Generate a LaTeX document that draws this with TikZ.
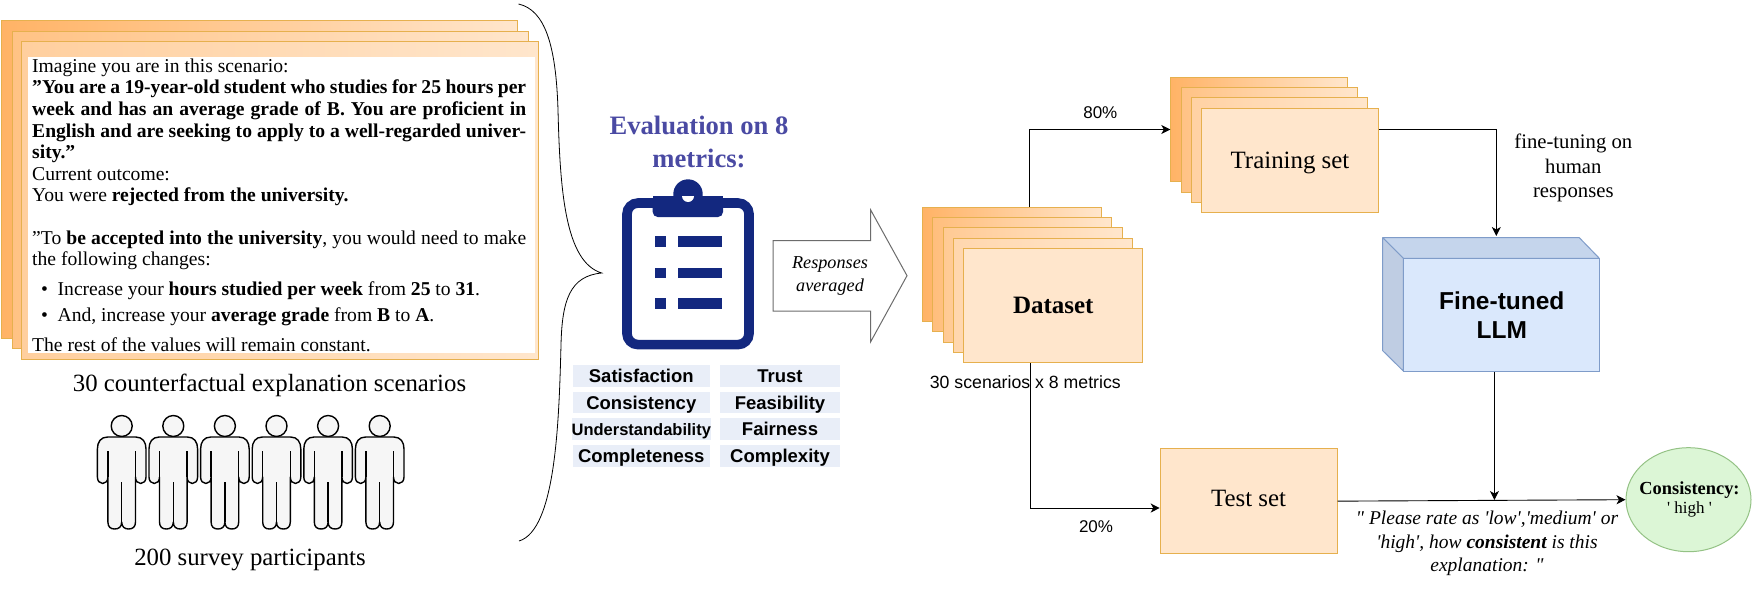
\documentclass[tikz,border=0pt]{standalone}
\usepackage{fontspec}
\setmainfont{Liberation Serif}
\setsansfont{Liberation Sans}
\newfontfamily\plainserif{Liberation Serif}
\usetikzlibrary{arrows.meta,shapes.geometric}
\definecolor{sheetedge}{HTML}{E6B04E}
\definecolor{sheetfill}{HTML}{FFE6CC}
\definecolor{deeporange}{HTML}{FFB366}
\definecolor{boardblue}{HTML}{13287F}
\definecolor{titleblue}{HTML}{4A4AA3}
\definecolor{metricfill}{HTML}{E9EEF8}
\definecolor{llmedge}{HTML}{7F9CC9}
\definecolor{llmfront}{HTML}{DAE8FC}
\definecolor{llmtop}{HTML}{C5D5EC}
\definecolor{llmside}{HTML}{BFCDE3}
\definecolor{outfill}{HTML}{DCF6D6}
\definecolor{outedge}{HTML}{94C285}
\definecolor{bodyfill}{HTML}{F6F6F6}
\tikzset{
  sheet/.style={draw=sheetedge,line width=1pt,rectangle,inner sep=0pt,anchor=north west},
  topsheet/.style={sheet,fill=sheetfill},
  flow/.style={-{Stealth[length=9pt,width=9pt,inset=2.5pt]},black,line width=0.9pt},
  metric/.style={fill=metricfill,inner sep=0pt,text height=17pt,text depth=4pt,font={\sffamily\bfseries\fontsize{18.5}{22}\selectfont}},
  scenario/.style={inner sep=0pt,anchor=north west,font={\fontsize{19.6}{21.6}\selectfont}},
  caption/.style={inner sep=0pt,font={\fontsize{24.8}{29}\selectfont}},
  note/.style={inner sep=0pt,align=center,font={\plainserif\itshape\fontsize{19.5}{23.5}\selectfont}},
  body/.style={draw=black,line width=1.4pt,fill=bodyfill,line join=round}
}
\newcommand{\person}[1]{%
\begin{scope}[xshift=#1pt]
\draw[body] (0,426) circle (10.5);
\draw[body] (-14,437)--(14,437) .. controls (21,437) and (24.3,442) .. (24.3,449)--(24.3,477) .. controls (24.3,481) and (22,483.5) .. (19,483.5) .. controls (16,483.5) and (13.8,481) .. (13.8,477)--(13.8,522) .. controls (13.8,527) and (11,529) .. (7,529) .. controls (3,529) and (0,527) .. (0,522) .. controls (0,527) and (-3,529) .. (-7,529) .. controls (-11,529) and (-13.8,527) .. (-13.8,522)--(-13.8,477) .. controls (-13.8,481) and (-16,483.5) .. (-19,483.5) .. controls (-22,483.5) and (-24.3,481) .. (-24.3,477)--(-24.3,449) .. controls (-24.3,442) and (-21,437) .. (-14,437)--cycle;
\draw[body] (13.8,451)--(13.8,477);
\draw[body] (-13.8,451)--(-13.8,477);
\draw[body] (0,482)--(0,522);
\end{scope}}
\begin{document}
\begin{tikzpicture}[x=1pt,y=-1pt]
\useasboundingbox (0,0) rectangle (1755,599);
% scenario sheets
\node[sheet,left color=deeporange,right color=sheetfill,minimum width=516pt,minimum height=318pt] (scenBack) at (1,20) {};
\node[sheet,left color=deeporange!70!sheetfill,right color=sheetfill,minimum width=516.5pt,minimum height=317pt] (scenMid) at (11.5,31) {};
\node[sheet,left color=deeporange!45!sheetfill,right color=sheetfill,minimum width=517pt,minimum height=317.5pt] (scenTop) at (21.4,41) {};
\node[fill=white,inner sep=0pt,anchor=north west,minimum width=507.5pt,minimum height=296pt] (scenPage) at (27.5,57) {};
\node[scenario,text width=494pt,align=justify] (scenIntro) at (32,58.5) {Imagine you are in this scenario:\\
\textbf{”You are a 19-year-old student who studies for 25 hours per\linebreak week and has an average grade of B. You are proficient in\linebreak English and are seeking to apply to a well-regarded univer-\linebreak sity.”}\\
Current outcome:\\
You were \textbf{rejected from the university.}};
\node[scenario,text width=494pt,align=justify] (scenCf) at (32,230.5) {”To \textbf{be accepted into the university}, you would need to make\linebreak the following changes:};
\node[scenario] (itemA) at (41,281.5) {\makebox[16.5pt][l]{•}Increase your \textbf{hours studied per week} from \textbf{25} to \textbf{31}.};
\node[scenario] (itemB) at (41,307.5) {\makebox[16.5pt][l]{•}And, increase your \textbf{average grade} from \textbf{B} to \textbf{A}.};
\node[scenario] (scenRest) at (32,337) {The rest of the values will remain constant.};
\node[caption] (scenLabel) at (269.5,385) {30 counterfactual explanation scenarios};
\person{121.7}
\person{173.3}
\person{224.9}
\person{276.5}
\person{328.1}
\person{379.7}
\node[caption] (crowdLabel) at (250,560) {200 survey participants};
% brace
\draw[black,line width=0.8pt] (518.5,4) .. controls (545,10) and (556,45) .. (558,110) .. controls (560,190) and (565,262) .. (601.7,273) .. controls (570,276) and (562,300) .. (561,345) .. controls (559,420) and (556,530) .. (519,541);
% clipboard
\node[inner sep=0pt,align=center,text=titleblue,font={\bfseries\fontsize{26.6}{33}\selectfont}] (evalTitle) at (699,141.5) {Evaluation on 8\\metrics:};
\fill[boardblue] (688,194) circle (14.7);
\draw[boardblue,line width=9.6pt,fill=white,rounded corners=11pt] (627,203) rectangle (749,344.6);
\fill[boardblue,rounded corners=5pt] (652.7,196)--(723,196)--(723,217)--(652.7,217)--cycle;
\fill[boardblue] (652.7,196) rectangle (723,205);
\fill[white] (682,196) arc (180:0:6) --cycle;
\fill[boardblue] (654.7,236) rectangle (665.7,246.7);
\fill[boardblue] (677.7,236) rectangle (721.7,246.7);
\fill[boardblue] (654.7,267.7) rectangle (665.7,278.3);
\fill[boardblue] (677.7,267.7) rectangle (721.7,278.3);
\fill[boardblue] (654.7,298.3) rectangle (665.7,309.3);
\fill[boardblue] (677.7,298.3) rectangle (721.7,309.3);
% metrics
\node[metric,minimum width=137.3pt,minimum height=21.7pt] (mSat) at (641.3,375.8) {Satisfaction};
\node[metric,minimum width=137.3pt,minimum height=21.7pt] (mCon) at (641.3,402.5) {Consistency};
\node[metric,minimum width=137.3pt,minimum height=21.7pt,font={\sffamily\bfseries\fontsize{16.5}{20}\selectfont}] (mUnd) at (641.3,429.2) {Understandability};
\node[metric,minimum width=137.3pt,minimum height=21.7pt] (mCmp) at (641.3,455.8) {Completeness};
\node[metric,minimum width=120pt,minimum height=21.7pt] (mTru) at (780,375.8) {Trust};
\node[metric,minimum width=120pt,minimum height=21.7pt] (mFea) at (780,402.5) {Feasibility};
\node[metric,minimum width=120pt,minimum height=21.7pt] (mFai) at (780,429.2) {Fairness};
\node[metric,minimum width=120pt,minimum height=21.7pt] (mCpx) at (780,455.8) {Complexity};
% block arrow
\draw[gray!85!black,line width=1pt,fill=white] (773,240.7)--(870.7,240.7)--(870.7,210)--(907,275.7)--(870.7,341.7)--(870.7,311)--(773,311)--cycle;
\node[note,font={\itshape\fontsize{18.2}{23}\selectfont}] (avgNote) at (830,275.5) {Responses\\averaged};
% dataset
\node[sheet,left color=deeporange,right color=sheetfill,minimum width=179pt,minimum height=114pt] (dataA) at (922,206.7) {};
\node[sheet,left color=deeporange!78!sheetfill,right color=sheetfill,minimum width=178.7pt,minimum height=114.3pt] (dataB) at (932.3,216.7) {};
\node[sheet,left color=deeporange!55!sheetfill,right color=sheetfill,minimum width=179pt,minimum height=114.4pt] (dataC) at (942.7,227.3) {};
\node[sheet,left color=deeporange!30!sheetfill,right color=sheetfill,minimum width=179pt,minimum height=114pt] (dataD) at (953,237.7) {};
\node[topsheet,minimum width=179pt,minimum height=114pt,font={\bfseries\fontsize{25}{30}\selectfont}] (dataE) at (963.3,248) {Dataset};
\node[inner sep=0pt,font={\sffamily\fontsize{17.7}{22}\selectfont}] (dataNote) at (1025.3,381.7) {30 scenarios x 8 metrics};
% training set
\node[sheet,left color=deeporange,right color=sheetfill,minimum width=176.4pt,minimum height=104.6pt] (trainA) at (1170.3,76.7) {};
\node[sheet,left color=deeporange!70!sheetfill,right color=sheetfill,minimum width=176.3pt,minimum height=105pt] (trainB) at (1180.7,86.7) {};
\node[sheet,left color=deeporange!40!sheetfill,right color=sheetfill,minimum width=176.3pt,minimum height=104.7pt] (trainC) at (1191,97.3) {};
\node[topsheet,minimum width=176.4pt,minimum height=104.6pt,text height=22pt,text depth=5.3pt,font={\fontsize{24.9}{29}\selectfont}] (trainD) at (1201.3,107.7) {Training set};
% test set
\node[topsheet,minimum width=176.8pt,minimum height=105.3pt,text height=14.5pt,text depth=4.5pt,font={\fontsize{24.9}{29}\selectfont}] (testSet) at (1159.7,448) {Test set};
% llm block
\fill[llmtop,draw=llmedge,line width=1pt,line join=round] (1382.7,237.7)--(1579.3,237.7)--(1599.3,258.3)--(1403.3,258.3)--cycle;
\fill[llmside,draw=llmedge,line width=1pt,line join=round] (1382.7,237.7)--(1403.3,258.3)--(1403.3,371)--(1382.7,350.7)--cycle;
\node[rectangle,draw=llmedge,fill=llmfront,line width=1pt,inner sep=0pt,anchor=north west,minimum width=196pt,minimum height=112.7pt,align=center,font={\sffamily\bfseries\fontsize{24.5}{29}\selectfont}] (llmBox) at (1403.3,258.3) {Fine-tuned\\LLM};
% output
\node[ellipse,draw=outedge,fill=outfill,line width=1pt,inner sep=0pt,minimum width=125pt,minimum height=104pt] (outCircle) at (1688.5,499.7) {};
\node[inner sep=0pt,font={\bfseries\fontsize{18.4}{22}\selectfont}] (outMetric) at (1689.5,489.7) {Consistency:};
\node[inner sep=0pt,font={\plainserif\fontsize{17}{20}\selectfont}] (outValue) at (1689.5,509) {' high '};
% labels
\node[inner sep=0pt,font={\sffamily\fontsize{17}{20}\selectfont}] (splitTrain) at (1100.3,112.3) {80\%};
\node[inner sep=0pt,font={\sffamily\fontsize{17}{20}\selectfont}] (splitTest) at (1096,527) {20\%};
\node[inner sep=0pt,align=center,font={\fontsize{20.7}{24.6}\selectfont}] (tuneNote) at (1573.3,168) {fine-tuning on\\human\\responses};
\node[note] (promptNote) at (1487,543.5) {" Please rate as 'low','medium' or\\'high', how \textbf{consistent} is this\\explanation: "};
% connectors
\coordinate (dataUp) at (1029.7,130);
\coordinate (dataDown) at (1030.7,500);
\coordinate (testIn) at (1159.7,508);
\coordinate (llmIn) at (1496.3,236);
\coordinate (joinPt) at (1494.4,500);
\draw[flow] (dataA.north -| dataUp) |- (trainA.west);
\draw[flow] (dataE.south -| dataDown) |- (testIn);
\draw[flow] (trainD.east |- trainA.west) -| (llmIn);
\draw[flow] (llmBox.south -| joinPt) -- (joinPt);
\draw[flow] (testSet.east) -- (outCircle.west);
\end{tikzpicture}
\end{document}
